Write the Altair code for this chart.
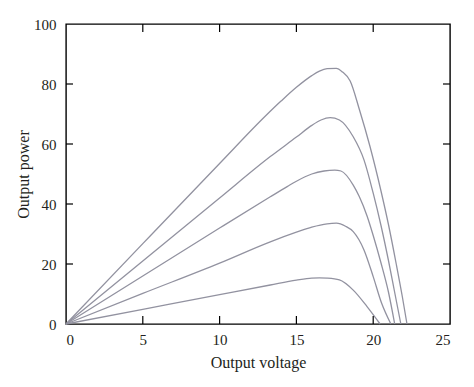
import altair as alt
import pandas as pd

# Curve data (output voltage, output power)
v1 = [0, 5, 10, 13, 14, 15, 16, 16.5, 17.0, 17.6, 18.0, 18.5, 19.1, 19.8, 20.5, 21.0, 21.5, 21.9, 22.2]
p1 = [0, 26.8, 53.5, 69.4, 74.3, 78.9, 82.8, 84.3, 85.1, 85.2, 84.0, 81.0, 71.5, 59.0, 44.5, 33.0, 20.0, 9.0, 0]

v2 = [0, 5, 10, 13.3, 15, 16, 16.6, 17.2, 17.8, 18.7, 19.4, 20.0, 20.5, 21.0, 21.4, 21.8]
p2 = [0, 21.0, 42.0, 55.8, 62.3, 66.2, 68.0, 68.8, 68.0, 62.4, 54.7, 43.6, 33.0, 21.0, 10.5, 0]

v3 = [0, 5, 10, 13.3, 14.4, 15, 16, 16.8, 17.5, 17.9, 18.7, 19.1, 19.6, 20.0, 20.5, 21.0, 21.4]
p3 = [0, 16.0, 32.0, 42.4, 45.8, 47.6, 50.0, 51.0, 51.3, 51.0, 46.3, 42.4, 36.0, 29.5, 20.5, 10.5, 0]

v4 = [0, 5, 10, 13.3, 15, 16, 17, 17.6, 18.2, 18.7, 19.4, 20.0, 20.55, 21.15]
p4 = [0, 10.2, 20.3, 27.4, 30.6, 32.3, 33.4, 33.6, 32.6, 30.8, 24.7, 15.8, 6.9, 0]

v5 = [0, 5, 10, 13.3, 15, 16, 16.5, 17.0, 17.8, 18.7, 19.6, 20.45]
p5 = [0, 4.9, 9.8, 13.0, 14.6, 15.3, 15.4, 15.3, 14.7, 11.3, 5.8, 0]

x_ticks = [5, 10, 15, 20]
y_ticks = [20, 40, 60, 80]

rows = []
for name, vs, ps in [("c1", v1, p1), ("c2", v2, p2), ("c3", v3, p3), ("c4", v4, p4), ("c5", v5, p5)]:
    for i, (v, p) in enumerate(zip(vs, ps)):
        rows.append({"curve": name, "order": i, "V": v, "P": p})
df = pd.DataFrame(rows)

W, H = 384, 300
FONT = "Liberation Serif"
TXT = "#231f20"

xscale = alt.Scale(domain=[0, 25], nice=False, zero=True)
yscale = alt.Scale(domain=[0, 100], nice=False)

lines = alt.Chart(df).mark_line(color="#9292a0", strokeWidth=1.3, interpolate="monotone").encode(
    x=alt.X("V:Q", scale=xscale, title="Output voltage",
            axis=alt.Axis(values=[0, 5, 10, 15, 20, 25], ticks=False, domain=False, grid=False,
                          labelPadding=8, titlePadding=7)),
    y=alt.Y("P:Q", scale=yscale, title="Output power",
            axis=alt.Axis(values=[0, 20, 40, 60, 80, 100], ticks=False, domain=False, grid=False,
                          labelPadding=10, titlePadding=2)),
    detail="curve:N",
    order="order:Q",
)

xt = pd.DataFrame({"t": x_ticks})
yt = pd.DataFrame({"t": y_ticks})
tick_style = dict(color="black", strokeWidth=1.2)

bottom = alt.Chart(xt).mark_rule(**tick_style).encode(
    x=alt.X("t:Q", scale=xscale), y=alt.value(H), y2=alt.value(H - 8))
top = alt.Chart(xt).mark_rule(**tick_style).encode(
    x=alt.X("t:Q", scale=xscale), y=alt.value(0), y2=alt.value(8))
left = alt.Chart(yt).mark_rule(**tick_style).encode(
    y=alt.Y("t:Q", scale=yscale), x=alt.value(0), x2=alt.value(7))
right = alt.Chart(yt).mark_rule(**tick_style).encode(
    y=alt.Y("t:Q", scale=yscale), x=alt.value(W), x2=alt.value(W - 7))

chart = alt.layer(lines, bottom, top, left, right).properties(
    width=W, height=H,
    background="white",
    autosize=alt.AutoSizeParams(type="none"),
    padding={"left": 58, "top": 16, "right": 16, "bottom": 55},
).configure_view(
    stroke="black", strokeWidth=1.4
).configure_axis(
    labelFont=FONT, titleFont=FONT, labelFontSize=15, titleFontSize=16,
    labelColor=TXT, titleColor=TXT, titleFontWeight="normal",
)

chart.save("out.html", embed_options={"renderer": "svg", "actions": False})
